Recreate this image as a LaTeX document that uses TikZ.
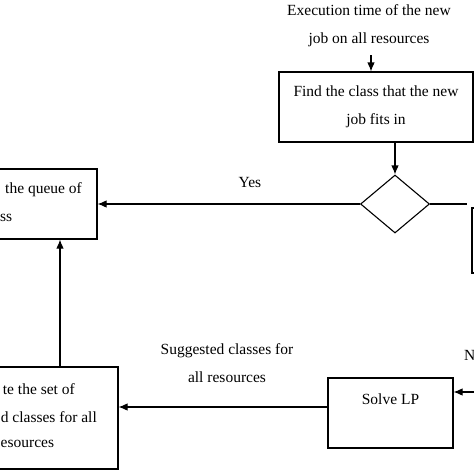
\documentclass[tikz,border=0pt]{standalone}
\usepackage{fontspec}
\setmainfont{Liberation Serif}
\usetikzlibrary{arrows.meta, positioning, shapes.geometric}
\tikzset{
    procbox/.style={draw, line width=1.1pt, inner sep=0pt, font=\fontsize{15.5}{28}\selectfont, align=center},
    flow/.style={line width=1.1pt, -{Latex[length=9pt,width=7.5pt]}},
    txt/.style={inner sep=0pt, font=\fontsize{15.5}{28}\selectfont, align=center}
}
\begin{document}
\begin{tikzpicture}[x=1pt, y=-1pt]
    \useasboundingbox (0,0) rectangle (474,474);
    \clip (0,0) rectangle (474,474);
    % boxes
    \node[procbox, minimum width=194, minimum height=70] (find) at (376,107) {Find the class that the new\\job fits in};
    \node[procbox, shape=diamond, minimum width=69, minimum height=58] (dec) at (395,204) {};
    \node[procbox, minimum width=200, minimum height=70] (queue) at (-3,204) {};
    \node[procbox, minimum width=200, minimum height=102] (upd) at (18,418) {};
    \node[procbox, minimum width=125, minimum height=70] (solve) at (390.5,413) {Solve LP\\\mbox{}};
    \node[procbox, minimum width=60, minimum height=65] (rbox) at (502,240.5) {};
    % texts
    \node[txt] (exec) at (369,26) {Execution time of the new\\job on all resources};
    \node[txt] (yes) at (250,182) {Yes};
    \node[txt] (sugg) at (227,363) {Suggested classes for\\all resources};
    \node[txt, anchor=west] (no) at (464,355) {N};
    \node[txt, anchor=east] (q1) at (82,190) {the queue of};
    \node[txt, anchor=west] (q2) at (0,218) {ss};
    \node[txt, anchor=east] (u1) at (75,389) {te the set of};
    \node[txt, anchor=east] (u2) at (97,417) {d classes for all};
    \node[txt, anchor=west] (u3) at (0.5,444) {esources};
    % connectors
    \coordinate (a0) at (371,55);
    \coordinate (a1) at (60,0);
    \coordinate (a2) at (476,392);
    \coordinate (a3) at (467,204);
    \draw[flow] (a0) -- (a0 |- find.north);
    \draw[flow] (dec.north |- find.south) -- (dec.north);
    \draw[flow] (dec.west) -- (dec.west -| queue.east);
    \draw[line width=1.1pt] (dec.east) -- (a3);
    \draw[flow] (a2) -- (a2 -| solve.east);
    \draw[flow] ([yshift=6pt]solve.west) -- ([yshift=6pt]solve.west -| upd.east);
    \draw[flow] (upd.north -| a1) -- (queue.south -| a1);
\end{tikzpicture}
\end{document}
